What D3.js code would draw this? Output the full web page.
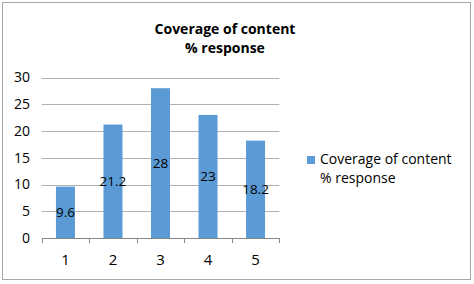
<!DOCTYPE html>
<html>
<head>
<meta charset="utf-8">
<script src="https://cdn.jsdelivr.net/npm/d3@7"></script>
<style>
  body { margin: 0; background: #fff; }
  text { font-family: "Open Sans", "Noto Sans", sans-serif; fill: #000; }
</style>
</head>
<body>
<div id="chart"></div>
<script>
// data
var categories = ["1", "2", "3", "4", "5"];
var values = [9.6, 21.2, 28, 23, 18.2];
var yTicks = [0, 5, 10, 15, 20, 25, 30];
var titleLines = ["Coverage of content", "% response"];
var legendLines = ["Coverage of content", "% response"];

var w = 474, h = 284;
var barColor = "#5b9bd5";

var svg = d3.select("#chart")
  .append("svg")
  .attr("width", w)
  .attr("height", h);

// outer frame
svg.append("rect")
  .attr("x", 2.5).attr("y", 2.5)
  .attr("width", 468).attr("height", 277)
  .attr("fill", "#fff")
  .attr("stroke", "#a6a6a6");

var x = d3.scaleBand()
  .domain(categories)
  .range([41.7, 279.3])
  .paddingInner(0.6)
  .paddingOuter(0.3);

var y = d3.scaleLinear()
  .domain([0, 30])
  .range([238, 77.5]);

// gridlines
svg.selectAll(".grid")
  .data(yTicks)
  .enter()
  .append("line")
  .attr("x1", 41.7).attr("x2", 279.3)
  .attr("y1", function(d) { return Math.round(y(d)) + 0.5; })
  .attr("y2", function(d) { return Math.round(y(d)) + 0.5; })
  .attr("stroke", function(d) { return d === 0 ? "#888" : "#b0b0b0"; })
  .attr("stroke-width", 1);

// y tick labels
svg.selectAll(".ylab")
  .data(yTicks)
  .enter()
  .append("text")
  .text(function(d) { return d; })
  .attr("x", 30)
  .attr("y", function(d) { return y(d); })
  .attr("dy", "0.35em")
  .style("text-anchor", "end")
  .style("font-size", "14px");

// bars
svg.selectAll(".bar")
  .data(values)
  .enter()
  .append("rect")
  .attr("x", function(d, i) { return x(categories[i]); })
  .attr("width", x.bandwidth())
  .attr("y", function(d) { return y(d); })
  .attr("height", function(d) { return y(0) - y(d); })
  .style("fill", barColor);

// category separator ticks
var step = (279.3 - 41.7) / categories.length;
svg.selectAll(".xtick")
  .data(d3.range(categories.length + 1))
  .enter()
  .append("line")
  .attr("x1", function(d) { return Math.round(41.7 + d * step) + 0.5; })
  .attr("x2", function(d) { return Math.round(41.7 + d * step) + 0.5; })
  .attr("y1", 238).attr("y2", 243)
  .attr("stroke", "#888");

// x labels
svg.selectAll(".xlab")
  .data(categories)
  .enter()
  .append("text")
  .text(function(d) { return d; })
  .attr("x", function(d) { return x(d) + x.bandwidth() / 2; })
  .attr("y", 260)
  .attr("dy", "0.35em")
  .style("text-anchor", "middle")
  .style("font-size", "15px");

// data labels, centred in bars
svg.selectAll(".vlab")
  .data(values)
  .enter()
  .append("text")
  .text(function(d) { return d; })
  .attr("x", function(d, i) { return x(categories[i]) + x.bandwidth() / 2; })
  .attr("y", function(d) { return (y(d) + y(0)) / 2; })
  .attr("dy", "0.35em")
  .style("text-anchor", "middle")
  .style("font-size", "13.5px");

// title
svg.selectAll(".title")
  .data(titleLines)
  .enter()
  .append("text")
  .text(function(d) { return d; })
  .attr("x", 225)
  .attr("y", function(d, i) { return 34 + i * 19; })
  .style("text-anchor", "middle")
  .style("font-size", "14px")
  .style("font-weight", "bold");

// legend
svg.append("rect")
  .attr("x", 307).attr("y", 156)
  .attr("width", 8).attr("height", 8)
  .style("fill", barColor);

svg.selectAll(".leg")
  .data(legendLines)
  .enter()
  .append("text")
  .text(function(d) { return d; })
  .attr("x", 320)
  .attr("y", function(d, i) { return 164 + i * 19; })
  .style("font-size", "14px");
</script>
</body>
</html>
